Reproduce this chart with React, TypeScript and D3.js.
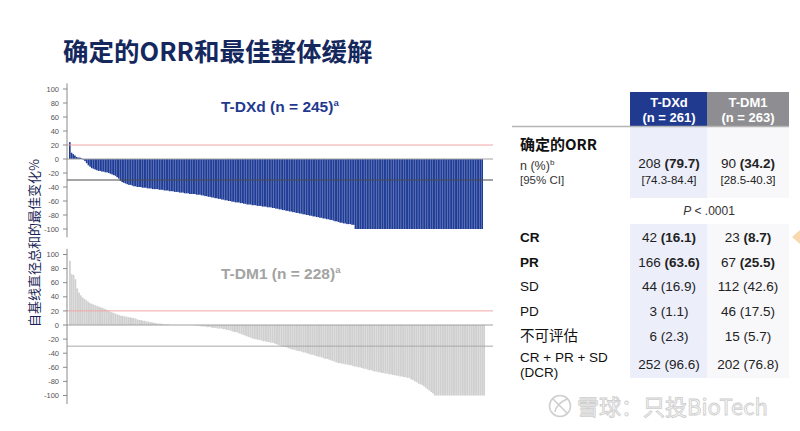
import * as d3 from "d3";

// best % change from baseline, sorted as in the waterfall (T-DXd, n = 245)
const dxdChange = [
  24, 9, 7, 5, 3, 2, 2, 1, -1, -3, -6, -9, -11, -13, -14, -15, -16, -17, -17, -18,
  -18, -19, -19, -20, -21, -22, -23, -24, -26, -28, -31, -33, -34, -35, -36, -37, -37, -38, -39, -39,
  -40, -40, -40, -41, -41, -41, -42, -42, -42, -43, -43, -43, -43, -44, -44, -44, -45, -45, -45, -46,
  -46, -46, -47, -47, -47, -48, -48, -48, -49, -49, -49, -50, -50, -50, -50, -51, -51, -51, -52, -52,
  -53, -53, -54, -54, -55, -55, -56, -56, -57, -57, -58, -58, -59, -59, -60, -60, -61, -61, -62, -62,
  -62, -63, -63, -64, -64, -65, -65, -65, -66, -66, -66, -67, -67, -67, -68, -68, -68, -69, -69, -69,
  -70, -70, -71, -71, -72, -72, -73, -73, -74, -74, -75, -75, -76, -76, -77, -77, -78, -78, -79, -79,
  -80, -80, -81, -81, -82, -82, -83, -83, -84, -84, -85, -85, -86, -86, -87, -87, -88, -89, -89, -90,
  -91, -91, -92, -92, -93, -93, -93, -94, -94,
  -100, -100, -100, -100, -100, -100, -100, -100, -100, -100, -100, -100, -100, -100, -100, -100,
  -100, -100, -100, -100, -100, -100, -100, -100, -100, -100, -100, -100, -100, -100, -100, -100,
  -100, -100, -100, -100, -100, -100, -100, -100, -100, -100, -100, -100, -100, -100, -100, -100,
  -100, -100, -100, -100, -100, -100, -100, -100, -100, -100, -100, -100, -100, -100, -100, -100,
  -100, -100, -100, -100, -100, -100, -100, -100, -100, -100, -100, -100,
];

// T-DM1, n = 228
const dm1Change = [
  91, 72, 71, 65, 52, 46, 42, 39, 37, 35, 33, 31, 30, 29, 28, 27, 26, 25, 24, 23,
  22, 21, 19, 18, 17, 16, 15, 14, 13, 13, 12, 12, 11, 11, 10, 10, 9, 8, 7, 7,
  6, 6, 5, 5, 4, 4, 3, 3, 2, 2, 2, 1, 1, 1, 1, 0, 0, 0, 0, 0,
  0, 0, 0, 0, 0, 0, 0, 0, 0, -1, -1, -1, -2, -2, -2, -3, -3, -3, -4, -4,
  -4, -5, -5, -5, -6, -6, -7, -7, -8, -9, -10, -10, -11, -12, -13, -14, -15, -16, -17, -18,
  -19, -20, -20, -21, -21, -22, -23, -23, -24, -24, -25, -25, -26, -27, -28, -29, -30, -31, -31, -32,
  -33, -34, -35, -35, -36, -37, -37, -38, -39, -39, -40, -41, -42, -42, -43, -44, -45, -45, -46, -47,
  -48, -48, -49, -50, -51, -52, -53, -54, -54, -55, -55, -56, -56, -57, -57, -58, -59, -59, -60, -60,
  -61, -62, -62, -63, -64, -64, -65, -66, -66, -67, -67, -68, -68, -69, -69, -70, -70, -71, -71, -72,
  -72, -73, -73, -74, -74, -75, -75, -77, -78, -80, -81, -83, -84, -85, -87, -89, -91, -93, -95, -97,
  -100, -100, -100, -100, -100, -100, -100, -100, -100, -100, -100, -100, -100, -100,
  -100, -100, -100, -100, -100, -100, -100, -100, -100, -100, -100, -100, -100, -100,
];

const yTicks = [-100, -80, -60, -40, -20, 0, 20, 40, 60, 80, 100];
const refLines = { pd: 20, pr: -30 };

const armHeaders = [
  ["T-DXd", "(n = 261)"],
  ["T-DM1", "(n = 263)"],
];

// [plain part, bold part] per arm
const orrValue = [
  ["208 ", "(79.7)"],
  ["90 ", "(34.2)"],
];
const orrCI = ["[74.3-84.4]", "[28.5-40.3]"];
const pValue = ".0001";

const bestLabels = ["CR", "PR", "SD", "PD", "不可评估"];
const bestLabelBold = [true, true, false, false, false];
const bestDxd = [
  ["42 ", "(16.1)"],
  ["166 ", "(63.6)"],
  ["44 (16.9)", ""],
  ["3 (1.1)", ""],
  ["6 (2.3)", ""],
];
const bestDm1 = [
  ["23 ", "(8.7)"],
  ["67 ", "(25.5)"],
  ["112 (42.6)", ""],
  ["46 (17.5)", ""],
  ["15 (5.7)", ""],
];
const dcrValue = ["252 (96.6)", "202 (76.8)"];

const SANS = "'Liberation Sans', Arial, sans-serif";
const CJK = "'Noto Sans CJK SC', 'Liberation Sans', sans-serif";
const NAVY = "#1f3a8f";

function Waterfall({
  data,
  top,
  bottom,
  x1,
  color,
  lineColor,
  title,
  titleColor,
  titleY,
}: {
  data: number[];
  top: number;
  bottom: number;
  x1: number;
  color: string;
  lineColor: string;
  title: string;
  titleColor: string;
  titleY: number;
}) {
  const y = d3.scaleLinear().domain([-100, 100]).range([bottom, top]);
  const x = d3
    .scaleBand<number>()
    .domain(d3.range(data.length))
    .range([69, x1])
    .paddingInner(0.03);
  const axisX = 67;
  const lineEnd = 493;

  return (
    <g>
      <text x={221} y={titleY} fontFamily={SANS} fontWeight="bold" fontSize={15.5} fill={titleColor}>
        {title}
        <tspan fontSize={9.5} dy={-6}>a</tspan>
      </text>
      {data.map((v, i) => (
        <rect
          key={i}
          x={x(i)}
          width={x.bandwidth()}
          y={y(Math.max(0, v))}
          height={Math.abs(y(v) - y(0))}
          fill={color}
        />
      ))}
      <line x1={axisX} x2={lineEnd} y1={y(0)} y2={y(0)} stroke="#a0a0a0" strokeWidth={1} />
      <line x1={axisX} x2={lineEnd} y1={y(refLines.pd)} y2={y(refLines.pd)} stroke="#f2a5a5" strokeWidth={1} />
      <line x1={axisX} x2={lineEnd} y1={y(refLines.pr)} y2={y(refLines.pr)} stroke={lineColor} strokeWidth={1} />
      <line x1={axisX} x2={axisX} y1={y(108)} y2={y(-112)} stroke="#8a8a8a" strokeWidth={1} />
      {yTicks.map((t) => (
        <g key={t}>
          <line x1={axisX - 4} x2={axisX} y1={y(t)} y2={y(t)} stroke="#8a8a8a" />
          <text
            x={59}
            y={y(t)}
            dy="0.35em"
            textAnchor="end"
            fontFamily={SANS}
            fontSize={7.5}
            fill="#555"
          >
            {t}
          </text>
        </g>
      ))}
    </g>
  );
}

function Cell({ cx, y, parts, size = 13.5 }: { cx: number; y: number; parts: string[]; size?: number }) {
  return (
    <text x={cx} y={y} textAnchor="middle" fontFamily={SANS} fontSize={size} fill="#222">
      {parts[0]}
      {parts[1] ? <tspan fontWeight="bold">{parts[1]}</tspan> : null}
    </text>
  );
}

export default function App() {
  const colX = [630, 707, 789];
  const colC = [669, 748];
  const bestY = [241.5, 267, 291, 316, 341];

  return (
    <svg
      width={800}
      height={431}
      style={{ position: "absolute", left: 0, top: 0, background: "#fff" }}
    >
      <text x={63} y={61} fontFamily={CJK} fontWeight="bold" fontSize={25.5} fill="#14285e">
        确定的ORR和最佳整体缓解
      </text>

      <text
        transform="translate(39,243) rotate(-90)"
        textAnchor="middle"
        fontFamily={CJK}
        fontSize={13}
        fill="#1b1f55"
      >
        自基线直径总和的最佳变化%
      </text>

      <Waterfall
        data={dxdChange}
        top={89}
        bottom={229}
        x1={483}
        color="#1f3c96"
        lineColor="#4a4a4a"
        title="T-DXd (n = 245)"
        titleColor={NAVY}
        titleY={112}
      />
      <Waterfall
        data={dm1Change}
        top={254.5}
        bottom={395.5}
        x1={485}
        color="#d0d0d0"
        lineColor="#a8a8a8"
        title="T-DM1 (n = 228)"
        titleColor="#a3a3a3"
        titleY={279}
      />

      {/* table shading */}
      <rect x={colX[0]} y={127} width={colX[1] - colX[0]} height={71} fill="#eceffa" />
      <rect x={colX[1]} y={127} width={colX[2] - colX[1]} height={71} fill="#f8f8fa" />
      <rect x={colX[0]} y={224} width={colX[1] - colX[0]} height={154} fill="#eceffa" />
      <rect x={colX[1]} y={224} width={colX[2] - colX[1]} height={154} fill="#f8f8fa" />

      {/* header */}
      <rect x={colX[0]} y={92} width={colX[1] - colX[0]} height={34} fill={NAVY} />
      <rect x={colX[1]} y={92} width={colX[2] - colX[1]} height={34} fill="#8e8e92" />
      {armHeaders.map((h, i) => (
        <text key={i} textAnchor="middle" fontFamily={SANS} fontWeight="bold" fontSize={13} fill="#fff">
          <tspan x={colC[i]} y={106.5}>{h[0]}</tspan>
          <tspan x={colC[i]} y={122}>{h[1]}</tspan>
        </text>
      ))}
      <line x1={512} x2={789} y1={126.5} y2={126.5} stroke="#b5b5b5" strokeWidth={1.5} />

      <text x={520} y={150} fontFamily={CJK} fontWeight="bold" fontSize={15} fill="#111">
        确定的ORR
      </text>
      <text x={520} y={169.5} fontFamily={SANS} fontSize={12.5} fill="#333">
        n (%)<tspan fontSize={8} dy={-5}>b</tspan>
      </text>
      <text x={520} y={184} fontFamily={SANS} fontSize={11.5} fill="#333">
        [95% CI]
      </text>
      {orrValue.map((v, i) => (
        <Cell key={i} cx={colC[i]} y={168} parts={v} />
      ))}
      {orrCI.map((v, i) => (
        <Cell key={i} cx={colC[i]} y={184} parts={[v]} size={11.5} />
      ))}
      <text x={709} y={215} textAnchor="middle" fontFamily={SANS} fontSize={12} fill="#333">
        <tspan fontStyle="italic">P</tspan> &lt; {pValue}
      </text>

      {bestLabels.map((l, i) => (
        <text
          key={l}
          x={520}
          y={bestY[i]}
          fontFamily={i === 4 ? CJK : SANS}
          fontWeight={bestLabelBold[i] ? "bold" : "normal"}
          fontSize={i === 4 ? 14.5 : 13.5}
          fill="#111"
        >
          {l}
        </text>
      ))}
      {bestDxd.map((v, i) => (
        <Cell key={i} cx={colC[0]} y={bestY[i]} parts={v} />
      ))}
      {bestDm1.map((v, i) => (
        <Cell key={i} cx={colC[1]} y={bestY[i]} parts={v} />
      ))}
      <text fontFamily={SANS} fontSize={13.5} fill="#111">
        <tspan x={520} y={361.5}>CR + PR + SD</tspan>
        <tspan x={520} y={376.5}>(DCR)</tspan>
      </text>
      {dcrValue.map((v, i) => (
        <Cell key={i} cx={colC[i]} y={369} parts={[v]} />
      ))}

      {/* watermark */}
      <g opacity={0.8}>
        <circle cx={560} cy={406} r={10.5} fill="none" stroke="#c4c4c4" strokeWidth={1.6} />
        <path d="M553,399 Q560,406 567,413 M567,399 Q556,404 555,412" fill="none" stroke="#c4c4c4" strokeWidth={1.6} />
        <text x={577} y={415} fontFamily={CJK} fontSize={22} fill="#f6f6f6" stroke="#c2c2c2" strokeWidth={0.8}>
          雪球：只投BioTech
        </text>
      </g>
      <path d="M800,230 L792,237 L800,244 Z" fill="#f3c98a" opacity={0.7} />
    </svg>
  );
}
